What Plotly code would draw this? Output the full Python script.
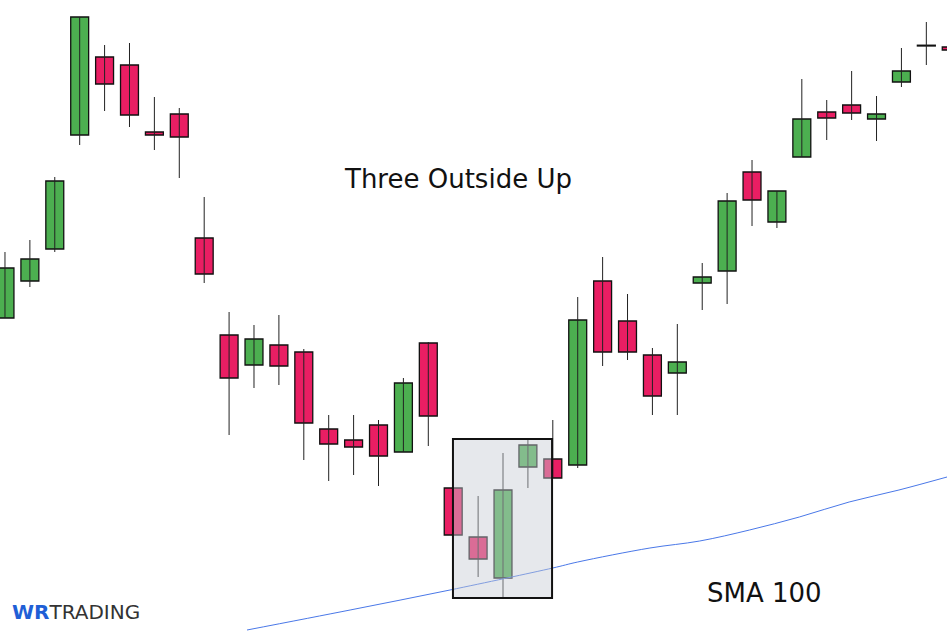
import plotly.graph_objects as go

# candle values (chart units, higher = up)
opens = [313, 350, 382, 496, 574, 566, 499, 517, 393, 296, 266, 286, 279, 202, 191, 206, 179, 288, 143, 94, 53, 164, 172, 166, 350, 310, 276, 258, 348, 360, 459, 409, 474, 519, 526, 512, 549, 585, 584]
closes = [363, 372, 450, 614, 547, 516, 496, 494, 357, 253, 292, 265, 208, 187, 184, 175, 248, 215, 96, 72, 141, 186, 153, 311, 279, 279, 235, 269, 354, 430, 431, 440, 512, 513, 518, 517, 560, 585, 581]
highs = [379, 391, 454, 614, 586, 588, 534, 523, 434, 319, 306, 316, 282, 216, 216, 211, 253, 289, 143, 135, 178, 191, 211, 334, 374, 337, 283, 307, 368, 438, 471, 440, 552, 531, 560, 535, 583, 609, 586]
lows = [313, 344, 379, 486, 520, 504, 481, 453, 348, 196, 243, 246, 171, 150, 156, 145, 179, 185, 96, 54, 34, 143, 153, 163, 265, 271, 216, 216, 321, 327, 405, 403, 474, 491, 511, 490, 544, 566, 581]
idx = list(range(len(opens)))

sma_x = [9.72, 13.86, 17.87, 22.0, 23.0, 25.9, 27.9, 29.9, 31.9, 33.9, 35.9, 37.83]
sma_y = [1, 21, 41, 63, 69, 83, 90, 101, 114, 129, 141, 154]

green = "#4caf50"
red = "#e91e63"

colors = []
for o, c in zip(opens, closes):
    if c > o:
        colors.append(green)
    elif c < o:
        colors.append(red)
    else:
        colors.append("#222222")

fig = go.Figure()

# wicks
wx, wy = [], []
for i, h, l in zip(idx, highs, lows):
    wx += [i, i, None]
    wy += [l, h, None]
fig.add_trace(go.Scatter(x=wx, y=wy, mode="lines", line=dict(color="#222222", width=1),
                         showlegend=False, hoverinfo="skip"))

# bodies
fig.add_trace(go.Bar(
    x=idx,
    base=[min(o, c) for o, c in zip(opens, closes)],
    y=[max(abs(c - o), 0.8) for o, c in zip(opens, closes)],
    width=0.72, marker=dict(color=colors, line=dict(color="#111111", width=1.3)),
    showlegend=False, hoverinfo="skip",
))

fig.add_trace(go.Scatter(
    x=sma_x, y=sma_y, mode="lines", line_shape="spline",
    line=dict(color="#4a78e8", width=1), showlegend=False, hoverinfo="skip",
))

# pattern highlight box
fig.add_shape(type="rect", xref="x", yref="y",
              x0=17.99, x1=21.97, y0=33, y1=192,
              line=dict(color="#111111", width=2),
              fillcolor="rgba(200,203,212,0.45)", layer="above")

fig.add_annotation(x=18.2, y=452, text="Three Outside Up", showarrow=False,
                   font=dict(family="DejaVu Sans", size=26, color="#111111"))
fig.add_annotation(x=30.5, y=38, text="SMA 100", showarrow=False,
                   font=dict(family="DejaVu Sans", size=26, color="#111111"))
fig.add_annotation(xref="x", yref="y", x=0.2, y=19, xanchor="left",
                   text="<b><span style='color:#1f5fd6'>WR</span></b><span style='color:#333333'>TRADING</span>",
                   showarrow=False, font=dict(family="DejaVu Sans", size=20))

fig.update_layout(
    width=947, height=631, margin=dict(l=0, r=0, t=0, b=0),
    plot_bgcolor="white", paper_bgcolor="white",
    xaxis=dict(range=[-0.2, 37.83], visible=False),
    yaxis=dict(range=[0, 631], visible=False),
)
fig.write_html("out.html", config={"displayModeBar": False},
               post_script="document.body.style.margin='0';document.body.style.overflow='hidden';")
